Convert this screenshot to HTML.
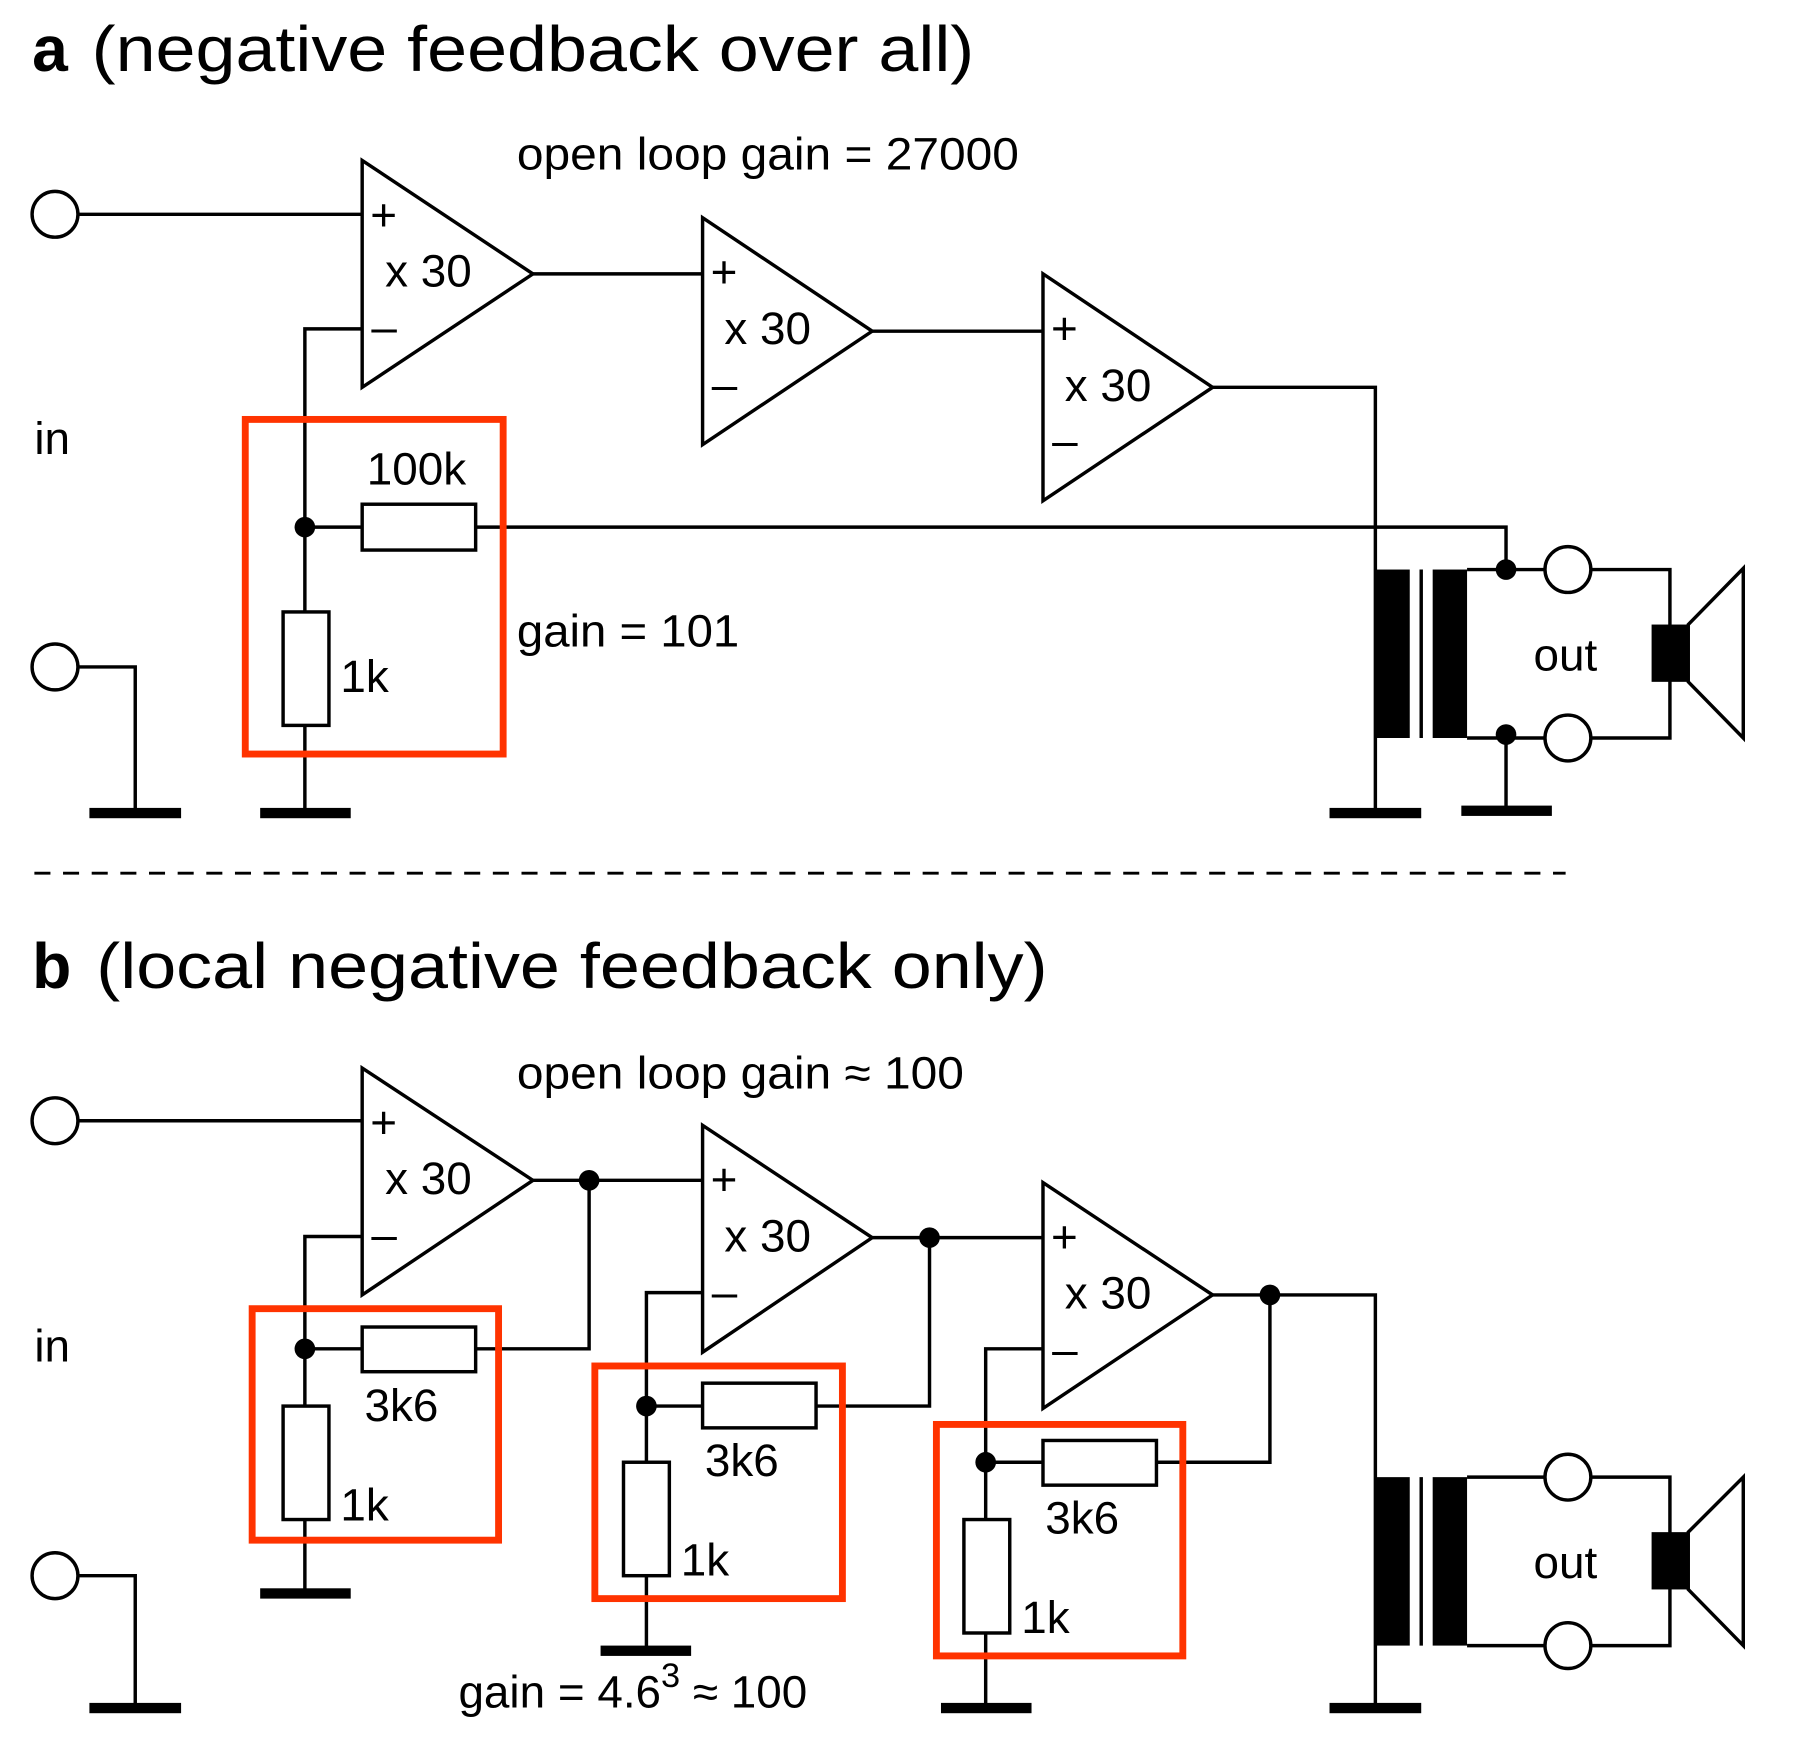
<!DOCTYPE html>
<html><head><meta charset="utf-8"><style>html,body{margin:0;padding:0;background:#fff}svg{display:block}</style></head>
<body>
<svg width="1796" height="1743" viewBox="0 0 1567 1521" preserveAspectRatio="none" xmlns="http://www.w3.org/2000/svg" font-family="Liberation Sans, sans-serif">
<rect width="1567" height="1521" fill="#fff"/>
<g fill="#000">
<text x="28" y="62" font-size="56" font-weight="bold">a</text>
<text x="80" y="62" font-size="56" textLength="770" lengthAdjust="spacingAndGlyphs">(negative feedback over all)</text>
<text x="28" y="862" font-size="56" font-weight="bold">b</text>
<text x="84" y="862" font-size="56" textLength="830" lengthAdjust="spacingAndGlyphs">(local negative feedback only)</text>
</g>
<g font-size="40" fill="#000">
<text x="451" y="148" textLength="438" lengthAdjust="spacingAndGlyphs">open loop gain = 27000</text>
<text x="30" y="396">in</text>
<text x="320" y="423">100k</text>
<text x="297" y="604">1k</text>
<text x="451" y="564" textLength="194" lengthAdjust="spacingAndGlyphs">gain = 101</text>
<text x="1338" y="585">out</text>
<text x="336" y="250">x 30</text><text x="632" y="300">x 30</text><text x="929" y="350">x 30</text>
<text x="451" y="950" textLength="390" lengthAdjust="spacingAndGlyphs">open loop gain ≈ 100</text>
<text x="30" y="1188">in</text>
<text x="336" y="1042">x 30</text><text x="632" y="1092">x 30</text><text x="929" y="1142">x 30</text>
<text x="318" y="1240">3k6</text><text x="297" y="1327">1k</text>
<text x="615" y="1288">3k6</text><text x="594" y="1375">1k</text>
<text x="912" y="1338">3k6</text><text x="891" y="1425">1k</text>
<text x="1338" y="1377">out</text>
<text x="400" y="1490">gain = 4.6<tspan font-size="30" dy="-18">3</tspan><tspan dy="18"> ≈ 100</tspan></text>
</g>
<g font-size="40" fill="#000">
<text x="323" y="201">+</text><text x="324" y="299">–</text>
<text x="620" y="251">+</text><text x="621" y="349">–</text>
<text x="917" y="300">+</text><text x="918" y="398">–</text>
<text x="323" y="993">+</text><text x="324" y="1091">–</text>
<text x="620" y="1043">+</text><text x="621" y="1141">–</text>
<text x="917" y="1093">+</text><text x="918" y="1191">–</text>
</g>
<g stroke="#000" stroke-width="3" fill="none">
<polygon points="316,140 316,338 465,239"/>
<polygon points="613,190 613,388 761,289"/>
<polygon points="910,239 910,437 1058,338"/>
<path d="M68,187H316 M316,287H266V710 M465,239H613 M761,289H910 M1058,338H1200V710 M68,582H118V710 M266,460H316 M415,460H1314V497 M1280,497H1348 M1388,497H1457V644H1388 M1280,644H1348 M1314,644V707"/>
<circle cx="48" cy="187" r="20" fill="#fff"/><circle cx="48" cy="582" r="20" fill="#fff"/>
<circle cx="1368" cy="497" r="20" fill="#fff"/><circle cx="1368" cy="644" r="20" fill="#fff"/>
<rect x="316" y="440" width="99" height="40" fill="#fff"/>
<rect x="247" y="534" width="40" height="99" fill="#fff"/>
<polygon points="1473,545 1521,496 1521,644 1473,595" fill="#fff"/>
<polygon points="316,932 316,1130 465,1030"/>
<polygon points="613,982 613,1180 761,1080"/>
<polygon points="910,1032 910,1229 1058,1130"/>
<path d="M68,978H316 M316,1079H266V1390 M465,1030H613 M514,1030V1177H415 M266,1177H316
M613,1128H564V1440 M761,1080H910 M811,1080V1227H712 M564,1227H613
M910,1177H860V1490 M1058,1130H1200V1490 M1108,1130V1276H1009 M860,1276H910
M68,1375H118V1490 M1280,1289H1348 M1388,1289H1457V1436H1388 M1280,1436H1348"/>
<circle cx="48" cy="978" r="20" fill="#fff"/><circle cx="48" cy="1375" r="20" fill="#fff"/>
<circle cx="1368" cy="1289" r="20" fill="#fff"/><circle cx="1368" cy="1436" r="20" fill="#fff"/>
<rect x="316" y="1158" width="99" height="39" fill="#fff"/><rect x="247" y="1227" width="40" height="99" fill="#fff"/>
<rect x="613" y="1207" width="99" height="39" fill="#fff"/><rect x="544" y="1276" width="40" height="99" fill="#fff"/>
<rect x="910" y="1257" width="99" height="39" fill="#fff"/><rect x="841" y="1326" width="40" height="99" fill="#fff"/>
<polygon points="1473,1337 1521,1289 1521,1436 1473,1387" fill="#fff"/>
<line x1="1240" y1="497" x2="1240" y2="644"/><line x1="1240" y1="1289" x2="1240" y2="1436"/>
</g>
<g fill="#000">
<rect x="78" y="705" width="80" height="9"/><rect x="227" y="705" width="79" height="9"/>
<rect x="1160" y="705" width="80" height="9"/><rect x="1275" y="703" width="79" height="9"/>
<rect x="1200" y="497" width="30" height="147"/><rect x="1250" y="497" width="30" height="147"/>
<rect x="1441" y="545" width="32" height="50"/>
<circle cx="266" cy="460" r="9"/><circle cx="1314" cy="497" r="9"/><circle cx="1314" cy="641" r="9"/>
<rect x="227" y="1386" width="79" height="9"/><rect x="524" y="1436" width="79" height="9"/>
<rect x="78" y="1486" width="80" height="9"/><rect x="821" y="1486" width="79" height="9"/><rect x="1160" y="1486" width="80" height="9"/>
<rect x="1200" y="1289" width="30" height="147"/><rect x="1250" y="1289" width="30" height="147"/>
<rect x="1441" y="1337" width="32" height="50"/>
<circle cx="266" cy="1177" r="9"/><circle cx="514" cy="1030" r="9"/>
<circle cx="564" cy="1227" r="9"/><circle cx="811" cy="1080" r="9"/>
<circle cx="860" cy="1276" r="9"/><circle cx="1108" cy="1130" r="9"/>
</g>
<line x1="30" y1="762" x2="1366" y2="762" stroke="#000" stroke-width="2.5" stroke-dasharray="14,11"/>
<g stroke="#ff3300" stroke-width="6" fill="none">
<rect x="214" y="366" width="225" height="292"/>
<rect x="220" y="1142" width="215" height="202"/>
<rect x="519" y="1192" width="216" height="203"/>
<rect x="817" y="1243" width="215" height="202"/>
</g>
</svg>
</body></html>
